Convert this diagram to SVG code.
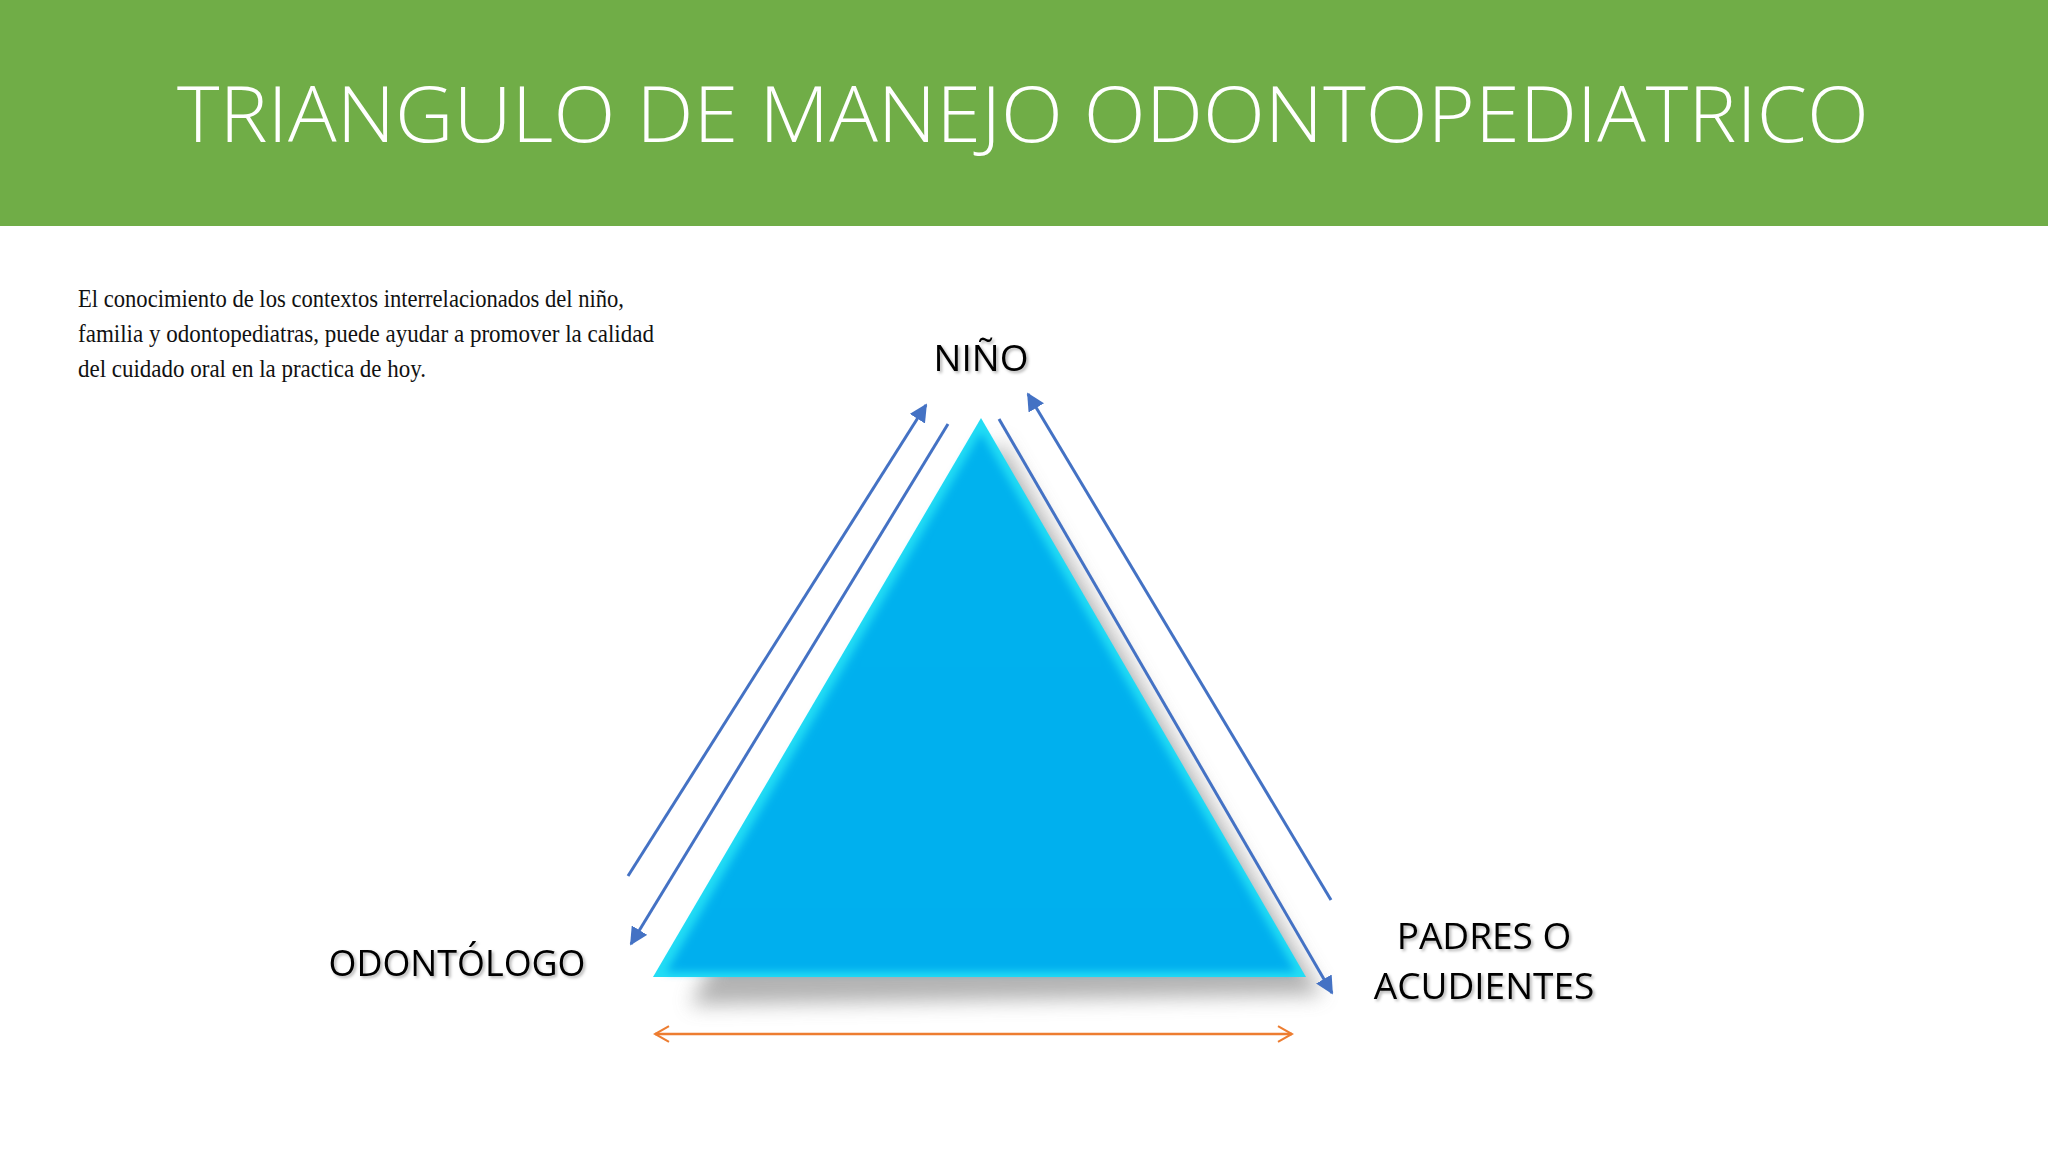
<svg xmlns="http://www.w3.org/2000/svg" width="2048" height="1152" viewBox="0 0 2048 1152">
  <defs>
    <style>
      .title { font-family: "Open Sans", "Liberation Sans", sans-serif; font-weight: 300; font-size: 77px; fill: #ffffff; }
      .label { font-family: "Open Sans", "Liberation Sans", sans-serif; font-size: 37px; fill: #000000; filter: url(#tshadow); }
      .para { font-family: "Liberation Serif", serif; font-size: 25px; fill: #111111; }
      .blue { stroke: #4472C4; stroke-width: 3; fill: none; }
      .orange { stroke: #ED7D31; stroke-width: 2.5; fill: none; }
    </style>
    <marker id="ah" viewBox="0 0 10 10" refX="9" refY="5" markerWidth="6" markerHeight="6" orient="auto" markerUnits="strokeWidth">
      <path d="M0,0 L10,5 L0,10 z" fill="#4472C4"/>
    </marker>
    <marker id="oh" viewBox="0 0 10 10" refX="9" refY="5" markerWidth="7" markerHeight="7" orient="auto-start-reverse" markerUnits="strokeWidth">
      <path d="M1,0.5 L9,5 L1,9.5" fill="none" stroke="#ED7D31" stroke-width="1.2"/>
    </marker>
    <filter id="tshadow" x="-10%" y="-20%" width="120%" height="150%">
      <feDropShadow dx="2" dy="2" stdDeviation="1.5" flood-color="#000" flood-opacity="0.3"/>
    </filter>
    <filter id="triShadow" x="-20%" y="-20%" width="140%" height="140%">
      <feGaussianBlur stdDeviation="10"/>
    </filter>
    <filter id="glow" x="-5%" y="-5%" width="110%" height="110%">
      <feGaussianBlur stdDeviation="4"/>
    </filter>
    <linearGradient id="triFill" x1="0" y1="0" x2="0" y2="1">
      <stop offset="0" stop-color="#05B2EE"/>
      <stop offset="1" stop-color="#02AFEE"/>
    </linearGradient>
  </defs>

  <rect x="0" y="0" width="2048" height="1152" fill="#ffffff"/>

  <g id="header">
    <rect x="0" y="0" width="2048" height="226" fill="#70AD47"/>
    <text class="title" x="177" y="142" textLength="1692" lengthAdjust="spacingAndGlyphs">TRIANGULO DE MANEJO ODONTOPEDIATRICO</text>
  </g>

  <g id="description">
    <text class="para" x="78" y="307" textLength="546" lengthAdjust="spacingAndGlyphs">El conocimiento de los contextos interrelacionados del niño,</text>
    <text class="para" x="78" y="342" textLength="576" lengthAdjust="spacingAndGlyphs">familia y odontopediatras, puede ayudar a promover la calidad</text>
    <text class="para" x="78" y="377" textLength="348" lengthAdjust="spacingAndGlyphs">del cuidado oral en la practica de hoy.</text>
  </g>

  <g id="triangle">
    <path d="M1000,440 L1322,995 L690,1005 Z" fill="#9a9a9a" opacity="0.75" filter="url(#triShadow)"/>
    <path d="M981,418 L1306,977 L653,977 Z" fill="#22DDF5"/>
    <path d="M981,432 L1296,972 L666,972 Z" fill="url(#triFill)" filter="url(#glow)"/>
  </g>

  <g id="node-nino">
    <text class="label" x="981" y="371" text-anchor="middle">NIÑO</text>
  </g>
  <g id="node-odontologo">
    <text class="label" x="457" y="976" text-anchor="middle" textLength="257" lengthAdjust="spacingAndGlyphs">ODONTÓLOGO</text>
  </g>
  <g id="node-padres">
    <text class="label" x="1484" y="949" text-anchor="middle">PADRES O</text>
    <text class="label" x="1484" y="999" text-anchor="middle">ACUDIENTES</text>
  </g>

  <g id="connectors">
    <line class="blue" x1="628" y1="876" x2="926" y2="405" marker-end="url(#ah)"/>
    <line class="blue" x1="948" y1="424" x2="631" y2="944" marker-end="url(#ah)"/>
    <line class="blue" x1="999" y1="419" x2="1332" y2="993" marker-end="url(#ah)"/>
    <line class="blue" x1="1331" y1="900" x2="1028" y2="394" marker-end="url(#ah)"/>
    <line class="orange" x1="655" y1="1034" x2="1292" y2="1034" marker-start="url(#oh)" marker-end="url(#oh)"/>
  </g>
</svg>
